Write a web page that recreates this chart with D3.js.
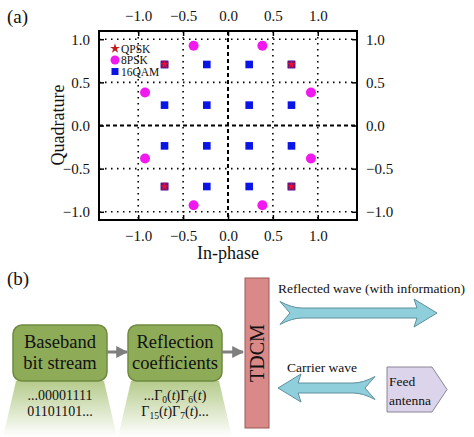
<!DOCTYPE html>
<html lang="en">
<head>
<meta charset="UTF-8">
<title>Constellation and TDCM scheme</title>
<script src="https://cdn.jsdelivr.net/npm/d3@7"></script>
<style>
	body { margin: 0; background: #fff; }
	svg text { font-family: "Liberation Serif", "Times New Roman", serif; fill: #111; }
</style>
</head>
<body>
<div id="viz"></div>
<script>
// constellation points (in-phase, quadrature)
const qpsk = [[-0.707, 0.707], [0.707, 0.707], [-0.707, -0.707], [0.707, -0.707]];
const psk8 = [[0.924, 0.383], [0.383, 0.924], [-0.383, 0.924], [-0.924, 0.383],
	[-0.924, -0.383], [-0.383, -0.924], [0.383, -0.924], [0.924, -0.383]];
const qam16Levels = [-0.707, -0.236, 0.236, 0.707];
const tickVals = [-1.0, -0.5, 0.0, 0.5, 1.0];
const legendNames = ['QPSK', '8PSK', '16QAM'];

// panel (b) texts
const blockLabels = [['Baseband', 'bit stream'], ['Reflection', 'coefficients']];
const blockSeqs = [['...00001111', '01101101...'],
	[['...Γ', '0', '(', 't', ')Γ', '6', '(', 't', ')'], ['Γ', '15', '(', 't', ')Γ', '7', '(', 't', ')...']]];
const waveLabels = ['Reflected wave (with information)', 'Carrier wave'];
const feedLabel = ['Feed', 'antenna'];

const W = 474, H = 437;
const svg = d3.select('#viz').append('svg').attr('width', W).attr('height', H);

// ---------- panel (a) ----------
svg.append('text').attr('x', 7).attr('y', 23).style('font-size', '19px').text('(a)');

const x = d3.scaleLinear().domain([-1.437, 1.437]).range([99, 357]);
const y = d3.scaleLinear().domain([-1.095, 1.095]).range([220, 31]);

const g = svg.append('g');

// grid
tickVals.forEach(v => {
	const zero = v === 0;
	g.append('line').attr('x1', x(v)).attr('x2', x(v)).attr('y1', y.range()[1]).attr('y2', y.range()[0])
		.attr('stroke', '#000').attr('stroke-width', zero ? 2 : 1.6)
		.attr('stroke-dasharray', zero ? '4,3' : '1.5,4.5');
	g.append('line').attr('y1', y(v)).attr('y2', y(v)).attr('x1', x.range()[0]).attr('x2', x.range()[1])
		.attr('stroke', '#000').attr('stroke-width', zero ? 2 : 1.6)
		.attr('stroke-dasharray', zero ? '4,3' : '1.5,4.5');
});

// axes
const fmt = d3.format('.1f');
const axB = d3.axisBottom(x).tickValues(tickVals).tickFormat(fmt).tickSizeInner(-5).tickSizeOuter(0).tickPadding(10);
const axT = d3.axisTop(x).tickValues(tickVals).tickFormat(fmt).tickSizeInner(-5).tickSizeOuter(0).tickPadding(10);
const axL = d3.axisLeft(y).tickValues(tickVals).tickFormat(fmt).tickSizeInner(-5).tickSizeOuter(0).tickPadding(9);
const axR = d3.axisRight(y).tickValues(tickVals).tickFormat(fmt).tickSizeInner(-5).tickSizeOuter(0).tickPadding(9);

[[axB, 'translate(0,220)'], [axT, 'translate(0,31)'], [axL, 'translate(99,0)'], [axR, 'translate(357,0)']]
	.forEach(([ax, tr]) => {
		const ga = svg.append('g').attr('transform', tr).call(ax);
		ga.select('.domain').remove();
		ga.selectAll('line').attr('stroke', '#000').attr('stroke-width', 1.5);
		ga.selectAll('text').style('font-size', '15px').style('font-family', '"Liberation Serif", serif').attr('fill', '#111');
	});

svg.append('rect').attr('x', 99).attr('y', 31).attr('width', 258).attr('height', 189)
	.attr('fill', 'none').attr('stroke', '#000').attr('stroke-width', 2);

svg.append('text').attr('x', 228).attr('y', 259).attr('text-anchor', 'middle')
	.style('font-size', '18px').text('In-phase');
svg.append('text').attr('transform', 'translate(64,125) rotate(-90)').attr('text-anchor', 'middle')
	.style('font-size', '18px').text('Quadrature');

// points
const qam16 = [];
qam16Levels.forEach(a => qam16Levels.forEach(b => qam16.push([a, b])));

const star = d3.symbol().type(d3.symbolStar);

g.selectAll('.qam').data(qam16).enter().append('rect')
	.attr('x', d => x(d[0]) - 3.8).attr('y', d => y(d[1]) - 3.8)
	.attr('width', 7.6).attr('height', 7.6).attr('fill', '#0a14e6');

g.selectAll('.qpsk').data(qpsk).enter().append('rect')
	.attr('x', d => x(d[0]) - 3.8).attr('y', d => y(d[1]) - 3.8)
	.attr('width', 7.6).attr('height', 7.6).attr('fill', '#7a1466').attr('opacity', 0.9);
g.selectAll('.qpskstar').data(qpsk).enter().append('path')
	.attr('d', star.size(22)())
	.attr('transform', d => `translate(${x(d[0])},${y(d[1])})`).attr('fill', '#e0103a');

g.selectAll('.psk').data(psk8).enter().append('circle')
	.attr('cx', d => x(d[0])).attr('cy', d => y(d[1])).attr('r', 5).attr('fill', '#f218f0');

// legend
const lg = svg.append('g');
lg.append('path').attr('d', star.size(30)()).attr('transform', 'translate(115,48.5)').attr('fill', '#c41a1a');
lg.append('circle').attr('cx', 115).attr('cy', 60).attr('r', 4.5).attr('fill', '#f218f0');
lg.append('rect').attr('x', 111.5).attr('y', 68).attr('width', 7).attr('height', 7).attr('fill', '#0a14e6');
legendNames.forEach((n, i) => {
	lg.append('text').attr('x', 121).attr('y', 52.5 + i * 11.7).style('font-size', '11.5px').text(n);
});

// ---------- panel (b) ----------
svg.append('text').attr('x', 7).attr('y', 285).style('font-size', '19px').text('(b)');

const defs = svg.append('defs');
const grad = defs.append('linearGradient').attr('id', 'fade').attr('x1', 0).attr('y1', 0).attr('x2', 0).attr('y2', 1);
grad.append('stop').attr('offset', '0%').attr('stop-color', '#b5cb8c');
grad.append('stop').attr('offset', '100%').attr('stop-color', '#ffffff');

defs.append('marker').attr('id', 'ah').attr('viewBox', '0 0 10 10').attr('refX', 9).attr('refY', 5)
	.attr('markerWidth', 4).attr('markerHeight', 4).attr('orient', 'auto')
	.append('path').attr('d', 'M0,0 L10,5 L0,10 Z').attr('fill', '#7f7f7f');

const boxX = [13, 128];
const boxW = 94, boxTop = 325, boxH = 56;

blockLabels.forEach((lab, i) => {
	const bx = boxX[i];
	svg.append('path')
		.attr('d', `M${bx + 3},${boxTop + boxH} L${bx + boxW - 3},${boxTop + boxH} L${bx + boxW + 10},${H} L${bx - 10},${H} Z`)
		.attr('fill', 'url(#fade)');
	svg.append('rect').attr('x', bx).attr('y', boxTop).attr('width', boxW).attr('height', boxH)
		.attr('rx', 9).attr('fill', '#8eab57').attr('stroke', '#6f8a3f').attr('stroke-width', 1.5);
	lab.forEach((t, j) => {
		svg.append('text').attr('x', bx + boxW / 2).attr('y', boxTop + 23 + j * 21)
			.attr('text-anchor', 'middle').style('font-size', '18.5px').text(t);
	});
	blockSeqs[i].forEach((s, j) => {
		const tx = svg.append('text').attr('x', bx + boxW / 2).attr('y', boxTop + 75 + j * 16)
			.attr('text-anchor', 'middle').style('font-size', '14px');
		if (typeof s === 'string') {
			tx.text(s);
		} else {
			// pattern: text, subscript, '(', italic t, ')' ...
			s.forEach((part, k) => {
				const span = tx.append('tspan').text(part);
				if (k % 4 === 1) span.style('font-size', '9.5px').attr('dy', 3);
				else if (k % 4 === 2 && k > 0) span.attr('dy', -3);
				else if (k % 4 === 3) span.style('font-style', 'italic');
			});
		}
	});
});

// grey connectors
[[107, 127], [222, 243]].forEach(([a, b]) => {
	svg.append('line').attr('x1', a).attr('x2', b).attr('y1', 352).attr('y2', 352)
		.attr('stroke', '#7f7f7f').attr('stroke-width', 3).attr('marker-end', 'url(#ah)');
});

// TDCM bar
svg.append('rect').attr('x', 245).attr('y', 278).attr('width', 24).attr('height', 150)
	.attr('fill', '#d98a88').attr('stroke', '#9a5a58').attr('stroke-width', 1);
svg.append('text').attr('transform', 'translate(264,353) rotate(-90)').attr('text-anchor', 'middle')
	.style('font-size', '20px').text('TDCM');

// notched-tail arrow pointing from tail towards tip
function waveArrow(tail, tip, cy) {
	const d = tip > tail ? 1 : -1;
	const p = (dx, dy) => `${tail + d * dx},${cy + dy}`;
	const len = Math.abs(tip - tail);
	return `M${p(0, -11.5)} Q${p(12, -5)} ${p(22, -5)} L${p(len - 20, -5)} L${p(len - 23, -14)} L${p(len, 0)} ` +
		`L${p(len - 23, 14)} L${p(len - 20, 5)} L${p(22, 5)} Q${p(12, 5)} ${p(0, 11.5)} L${p(10, 0)} Z`;
}
svg.append('path').attr('d', waveArrow(280, 437, 313))
	.attr('fill', '#8fcfdc').attr('stroke', '#5f8f9c').attr('stroke-width', 1);
svg.append('path').attr('d', waveArrow(375, 278, 388))
	.attr('fill', '#8fcfdc').attr('stroke', '#5f8f9c').attr('stroke-width', 1);

svg.append('text').attr('x', 278).attr('y', 293).style('font-size', '13.5px').text(waveLabels[0]);
svg.append('text').attr('x', 287).attr('y', 372).style('font-size', '13.5px').text(waveLabels[1]);

// feed antenna
svg.append('path').attr('d', 'M387,367 L432,367 L447,389.5 L432,412 L387,412 Z')
	.attr('fill', '#dcd4ea').attr('stroke', '#8a8496').attr('stroke-width', 1);
feedLabel.forEach((t, j) => {
	svg.append('text').attr('x', 389).attr('y', 386 + j * 19).style('font-size', '13.5px').text(t);
});
</script>
</body>
</html>
